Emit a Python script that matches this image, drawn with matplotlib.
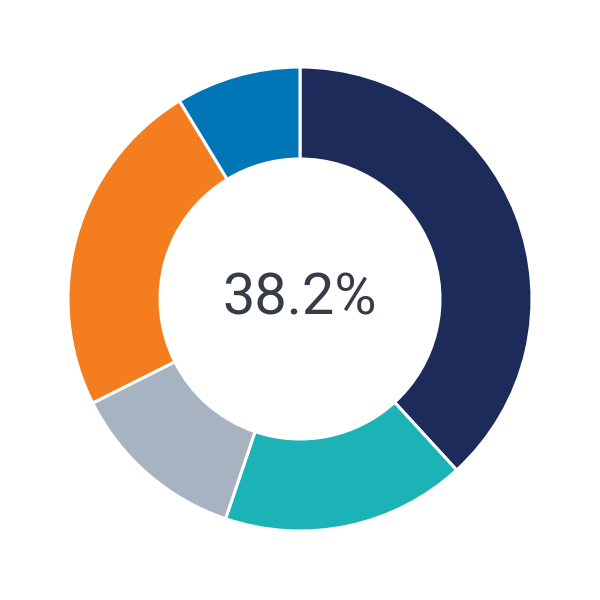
import matplotlib
matplotlib.use("Agg")
import matplotlib.pyplot as plt

# slice shares in percent, clockwise from 12 o'clock
labels = ["Navy", "Teal", "Gray", "Orange", "Blue"]
shares = [38.2, 17.0, 12.4, 23.7, 8.7]
colors = ["#1c2b5a", "#1bb3b5", "#a8b3c2", "#f47d20", "#0076b6"]
center_label = "38.2%"

fig = plt.figure(figsize=(6, 6), dpi=100)
ax = fig.add_axes([0, 0, 1, 1])

ax.pie(shares, colors=colors, startangle=90, counterclock=False,
       radius=232, center=(0, 0),
       wedgeprops=dict(width=92, edgecolor="white", linewidth=2.2))

ax.text(0, 0, center_label, ha="center", va="center",
        fontsize=41.5, family="Roboto", color="#373d48")

ax.set_xlim(-300, 300)
ax.set_ylim(-301, 299)
ax.set_aspect("equal")
ax.axis("off")

fig.savefig("out.png", dpi=100, facecolor="white")
